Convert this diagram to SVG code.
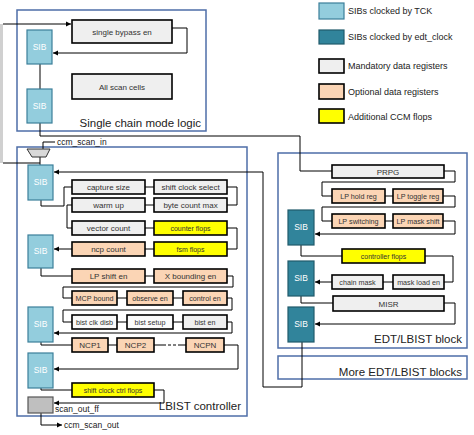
<svg xmlns="http://www.w3.org/2000/svg" width="474" height="435" viewBox="0 0 474 435">
<defs>
<marker id="ah" markerWidth="6" markerHeight="6" refX="5" refY="3" orient="auto" markerUnits="userSpaceOnUse"><path d="M0,0.5 L5,3 L0,5.5 Z" fill="#000"/></marker>
<style>
.blk{fill:#fff;stroke:#4e6ea8;stroke-width:1.5}
.mand{fill:#efefef;stroke:#000;stroke-width:1.6}
.wht{fill:#fafafa;stroke:#000;stroke-width:1.6}
.opt{fill:#fbd5b5;stroke:#000;stroke-width:1.6}
.ccm{fill:#ffff00;stroke:#000;stroke-width:1.6}
.sibl{fill:#93cddd;stroke:#3b7f9a;stroke-width:1.2}
.sibd{fill:#31849b;stroke:#215a6b;stroke-width:1.2}
.w{fill:none;stroke:#000;stroke-width:1}
.t{font-family:"Liberation Sans",Arial,sans-serif;font-size:8px;text-anchor:middle;fill:#333}
.ts{font-size:7px}
.tn{font-size:7.2px}
.sib{font-family:"Liberation Sans",Arial,sans-serif;font-size:8.5px;text-anchor:middle;fill:#fff}
.lbl{font-family:"Liberation Sans",Arial,sans-serif;font-size:11.5px;text-anchor:end;fill:#222}
.lg{font-family:"Liberation Sans",Arial,sans-serif;font-size:9px;fill:#222}
.sm{font-family:"Liberation Sans",Arial,sans-serif;font-size:8.5px;fill:#222}
</style>
</defs>
<rect x="0" y="0" width="474" height="435" fill="#fff"/>
<rect x="0" y="24" width="3" height="139" fill="#d0d0d0"/>

<g id="legend">
<rect x="319" y="3" width="25" height="16" class="sibl" stroke="#2e5f80"/>
<text x="348" y="14" class="lg">SIBs clocked by TCK</text>
<rect x="319" y="30" width="25" height="14" class="sibd"/>
<text x="348" y="40" class="lg">SIBs clocked by edt_clock</text>
<rect x="319" y="59" width="25" height="14" class="mand"/>
<text x="348" y="69" class="lg">Mandatory data registers</text>
<rect x="319" y="84" width="25" height="15" class="opt"/>
<text x="348" y="95" class="lg">Optional data registers</text>
<rect x="319" y="109" width="25" height="14" class="ccm"/>
<text x="348" y="120" class="lg">Additional CCM flops</text>
</g>

<g id="single_chain_block">
<rect x="17" y="10" width="189" height="121" class="blk"/>
<text x="201" y="127" class="lbl">Single chain mode logic</text>
</g>
<g id="lbist_block">
<rect x="17" y="147" width="230" height="269" class="blk"/>
<text x="241" y="410" class="lbl">LBIST controller</text>
</g>
<g id="edt_block">
<rect x="278" y="153" width="189" height="195" class="blk"/>
<text x="462" y="343" class="lbl">EDT/LBIST block</text>
</g>
<g id="more_edt_block">
<rect x="278" y="356" width="189" height="23" class="blk"/>
<text x="462" y="376" class="lbl">More EDT/LBIST blocks</text>
</g>

<g id="connectors">
<polyline class="w" points="3,24 71,24" marker-end="url(#ah)"/>
<polyline class="w" points="172,28 187,28 187,53 53,53" marker-end="url(#ah)"/>
<polyline class="w" points="40,64 40,89"/>
<polyline class="w" points="40,123 40,136 300,136 300,171 332,171"/>
<polyline class="w" points="55,142 43,142 43,149"/>
<polyline class="w" points="3,163 40,163"/>
<polyline class="w" points="40,157 40,165"/>
<polyline class="w" points="302,342 302,387 263,387 263,172 54,172" marker-end="url(#ah)"/>
<polyline class="w" points="41,200 41,206 64,206 64,187 72,187"/>
<polyline class="w" points="145,187 154,187"/>
<polyline class="w" points="227,187 237,187 237,205 227,205"/>
<polyline class="w" points="154,205 145,205"/>
<polyline class="w" points="72,205 67,205 67,228 72,228"/>
<polyline class="w" points="145,228 154,228"/>
<polyline class="w" points="227,228 237,228 237,249 227,249"/>
<polyline class="w" points="154,249 145,249"/>
<polyline class="w" points="72,249 54,249" marker-end="url(#ah)"/>
<polyline class="w" points="41,268 41,276 72,276"/>
<polyline class="w" points="145,276 154,276"/>
<polyline class="w" points="227,276 233,276 233,287 63,287 63,298 72,298"/>
<polyline class="w" points="117,298 127,298"/>
<polyline class="w" points="173,298 183,298"/>
<polyline class="w" points="227,298 232,298 232,310 63,310 63,322 72,322"/>
<polyline class="w" points="117,322 127,322"/>
<polyline class="w" points="173,322 183,322"/>
<polyline class="w" points="227,322 232,322 232,333 54,333" marker-end="url(#ah)"/>
<polyline class="w" points="41,342 41,345 72,345"/>
<polyline class="w" points="108,345 117,345"/>
<polyline class="w" points="154,345 163,345"/>
<polyline class="w" points="163,345 180,345" stroke-dasharray="3,2"/>
<polyline class="w" points="180,345 186,345"/>
<polyline class="w" points="224,345 238,345 238,369 54,369" marker-end="url(#ah)"/>
<polyline class="w" points="41,388 41,390 72,390"/>
<polyline class="w" points="154,390 164,390 164,403 54,403" marker-end="url(#ah)"/>
<polyline class="w" points="41,413 41,425 62,425" marker-end="url(#ah)"/>
<polyline class="w" points="444,171 455,171 455,182 322,182 322,196 332,196"/>
<polyline class="w" points="385,196 393,196"/>
<polyline class="w" points="443,196 455,196 455,207 322,207 322,221 332,221"/>
<polyline class="w" points="385,221 393,221"/>
<polyline class="w" points="443,221 455,221 455,234 315,234" marker-end="url(#ah)"/>
<polyline class="w" points="301,245 301,256 342,256"/>
<polyline class="w" points="425,256 453,256 453,282 444,282"/>
<polyline class="w" points="393,282 383,282"/>
<polyline class="w" points="332,282 315,282" marker-end="url(#ah)"/>
<polyline class="w" points="301,296 301,303 333,303"/>
<polyline class="w" points="444,303 455,303 455,324 315,324" marker-end="url(#ah)"/>
</g>

<g id="single_bypass_en"><rect x="72" y="20" width="100" height="23" class="mand"/><text x="122" y="35" class="t">single bypass en</text></g>
<g id="all_scan_cells"><rect x="72" y="74" width="100" height="25" class="mand"/><text x="122" y="90" class="t">All scan cells</text></g>
<g id="sc_sib1"><rect x="27" y="30" width="25" height="34" class="sibl"/><text x="39.5" y="50" class="sib">SIB</text></g>
<g id="sc_sib2"><rect x="27" y="89" width="25" height="34" class="sibl"/><text x="39.5" y="109" class="sib">SIB</text></g>

<g id="ccm_mux"><polygon points="27,149 50,149 46,157 32,157" fill="#d9d9d9" stroke="#333" stroke-width="1"/></g>
<text x="57" y="145" class="sm">ccm_scan_in</text>

<g id="lb_sib1"><rect x="28" y="165" width="25" height="35" class="sibl"/><text x="40.5" y="185" class="sib">SIB</text></g>
<g id="lb_sib2"><rect x="28" y="235" width="25" height="33" class="sibl"/><text x="40.5" y="254" class="sib">SIB</text></g>
<g id="lb_sib3"><rect x="28" y="307" width="25" height="35" class="sibl"/><text x="40.5" y="327" class="sib">SIB</text></g>
<g id="lb_sib4"><rect x="28" y="353" width="25" height="35" class="sibl"/><text x="40.5" y="373" class="sib">SIB</text></g>

<g id="capture_size"><rect x="72" y="180" width="73" height="14" class="mand"/><text x="108.5" y="190" class="t">capture size</text></g>
<g id="shift_clock_select"><rect x="154" y="180" width="73" height="14" class="mand"/><text x="190.5" y="190" class="t">shift clock select</text></g>
<g id="warm_up"><rect x="72" y="198" width="73" height="14" class="mand"/><text x="108.5" y="208" class="t">warm up</text></g>
<g id="byte_count_max"><rect x="154" y="198" width="73" height="14" class="mand"/><text x="190.5" y="208" class="t">byte count max</text></g>
<g id="vector_count"><rect x="72" y="221" width="73" height="14" class="mand"/><text x="108.5" y="231" class="t">vector count</text></g>
<g id="counter_flops"><rect x="154" y="221" width="73" height="14" class="ccm"/><text x="190.5" y="231" class="t ts">counter flops</text></g>
<g id="ncp_count"><rect x="72" y="242" width="73" height="14" class="opt"/><text x="108.5" y="252" class="t">ncp count</text></g>
<g id="fsm_flops"><rect x="154" y="242" width="73" height="14" class="ccm"/><text x="190.5" y="252" class="t ts">fsm flops</text></g>
<g id="lp_shift_en"><rect x="72" y="269" width="73" height="14" class="opt"/><text x="108.5" y="279" class="t">LP shift en</text></g>
<g id="x_bounding_en"><rect x="154" y="269" width="73" height="14" class="opt"/><text x="190.5" y="279" class="t">X bounding en</text></g>
<g id="mcp_bound"><rect x="72" y="291" width="45" height="14" class="opt"/><text x="94.5" y="301" class="t tn">MCP bound</text></g>
<g id="observe_en"><rect x="127" y="291" width="46" height="14" class="opt"/><text x="150" y="301" class="t tn">observe en</text></g>
<g id="control_en"><rect x="183" y="291" width="44" height="14" class="opt"/><text x="205" y="301" class="t tn">control en</text></g>
<g id="bist_clk_disb"><rect x="72" y="315" width="45" height="14" class="wht"/><text x="94.5" y="325" class="t tn">bist clk disb</text></g>
<g id="bist_setup"><rect x="127" y="315" width="46" height="14" class="wht"/><text x="150" y="325" class="t tn">bist setup</text></g>
<g id="bist_en"><rect x="183" y="315" width="44" height="14" class="mand"/><text x="205" y="325" class="t tn">bist en</text></g>
<g id="ncp1"><rect x="72" y="338" width="36" height="14" class="opt"/><text x="90" y="348" class="t">NCP1</text></g>
<g id="ncp2"><rect x="117" y="338" width="37" height="14" class="opt"/><text x="135.5" y="348" class="t">NCP2</text></g>
<g id="ncpn"><rect x="186" y="338" width="38" height="14" class="opt"/><text x="205" y="348" class="t">NCPN</text></g>
<g id="shift_clock_ctrl_flops"><rect x="72" y="383" width="82" height="14" class="ccm"/><text x="113" y="393" class="t ts">shift clock ctrl flops</text></g>
<g id="scan_out_ff"><rect x="28" y="397" width="25" height="16" fill="#bfbfbf" stroke="#555" stroke-width="1.2"/></g>
<text x="55" y="412" class="sm">scan_out_ff</text>
<text x="64" y="428" class="sm">ccm_scan_out</text>

<g id="prpg"><rect x="332" y="165" width="112" height="13" class="mand"/><text x="388" y="174.5" class="t">PRPG</text></g>
<g id="lp_hold_reg"><rect x="332" y="189" width="53" height="14" class="opt"/><text x="358.5" y="199" class="t tn">LP hold reg</text></g>
<g id="lp_toggle_reg"><rect x="393" y="189" width="50" height="14" class="opt"/><text x="418" y="199" class="t tn">LP toggle reg</text></g>
<g id="lp_switching"><rect x="332" y="214" width="53" height="14" class="opt"/><text x="358.5" y="224" class="t tn">LP switching</text></g>
<g id="lp_mask_shift"><rect x="393" y="214" width="50" height="14" class="opt"/><text x="418" y="224" class="t tn">LP mask shift</text></g>
<g id="controller_flops"><rect x="342" y="249" width="83" height="14" class="ccm"/><text x="383.5" y="259" class="t ts">controller flops</text></g>
<g id="chain_mask"><rect x="332" y="275" width="51" height="14" class="mand"/><text x="357.5" y="285" class="t tn">chain mask</text></g>
<g id="mask_load_en"><rect x="393" y="275" width="51" height="14" class="mand"/><text x="418.5" y="285" class="t tn">mask load en</text></g>
<g id="misr"><rect x="333" y="296" width="111" height="15" class="mand"/><text x="388.5" y="306.5" class="t">MISR</text></g>
<g id="edt_sib1"><rect x="288" y="210" width="26" height="35" class="sibd"/><text x="301" y="230" class="sib">SIB</text></g>
<g id="edt_sib2"><rect x="288" y="261" width="26" height="35" class="sibd"/><text x="301" y="281" class="sib">SIB</text></g>
<g id="edt_sib3"><rect x="288" y="307" width="26" height="35" class="sibd"/><text x="301" y="327" class="sib">SIB</text></g>
</svg>
